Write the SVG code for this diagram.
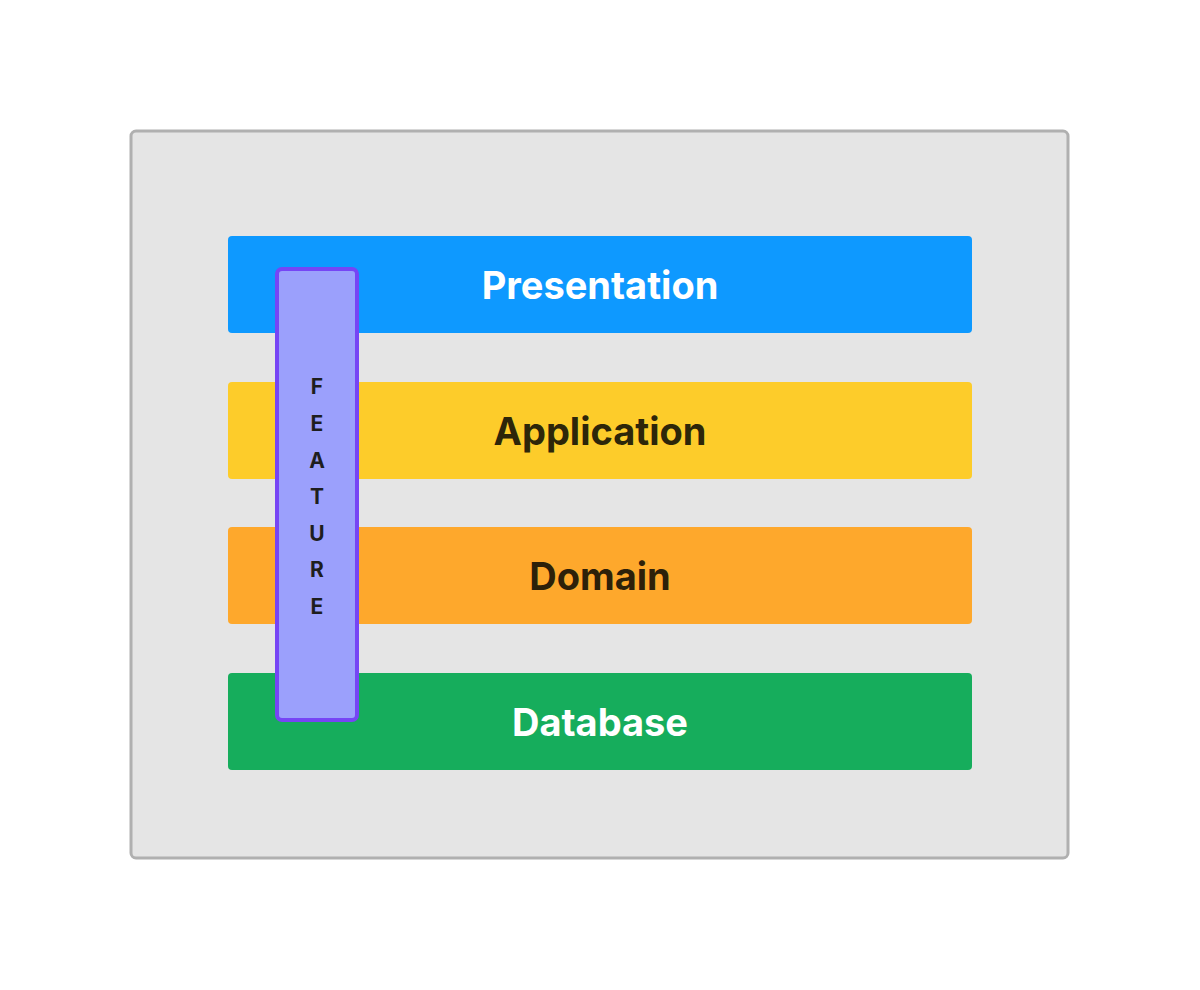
<svg xmlns="http://www.w3.org/2000/svg" width="1200" height="990" viewBox="0 0 1200 990">
<style>
.lbl{font-family:Inter,"Noto Sans",sans-serif;font-weight:700;font-size:38px;text-anchor:middle}
.f{font-family:Inter,"Noto Sans",sans-serif;font-weight:700;font-size:21px;text-anchor:middle;fill:#1e1e1e}
</style>
<rect width="1200" height="990" fill="#fff"/>
<g id="frame"><rect x="131" y="131" width="937" height="727" rx="5" fill="#e5e5e5" stroke="#b0b0b0" stroke-width="3"/></g>
<g id="presentation"><rect x="228" y="236" width="744" height="97" rx="4" fill="#0e99ff"/><text class="lbl" x="600" y="299" fill="#fff">Presentation</text></g>
<g id="application"><rect x="228" y="382" width="744" height="97" rx="4" fill="#fdcc2a"/><text class="lbl" x="600" y="445" fill="#2d2609">Application</text></g>
<g id="domain"><rect x="228" y="527" width="744" height="97" rx="4" fill="#fea82c"/><text class="lbl" x="600" y="590" fill="#2d2009">Domain</text></g>
<g id="database"><rect x="228" y="673" width="744" height="97" rx="4" fill="#16ad5c"/><text class="lbl" x="600" y="736" fill="#fff">Database</text></g>
<g id="feature"><rect x="277" y="269" width="80" height="451" rx="5" fill="#9ba0fc" stroke="#7645f5" stroke-width="4"/>
<text class="f" x="317" y="394">F</text><text class="f" x="317" y="431">E</text><text class="f" x="317" y="468">A</text><text class="f" x="317" y="504">T</text><text class="f" x="317" y="541">U</text><text class="f" x="317" y="577">R</text><text class="f" x="317" y="614">E</text></g>
<g id="connectors"/>
</svg>
